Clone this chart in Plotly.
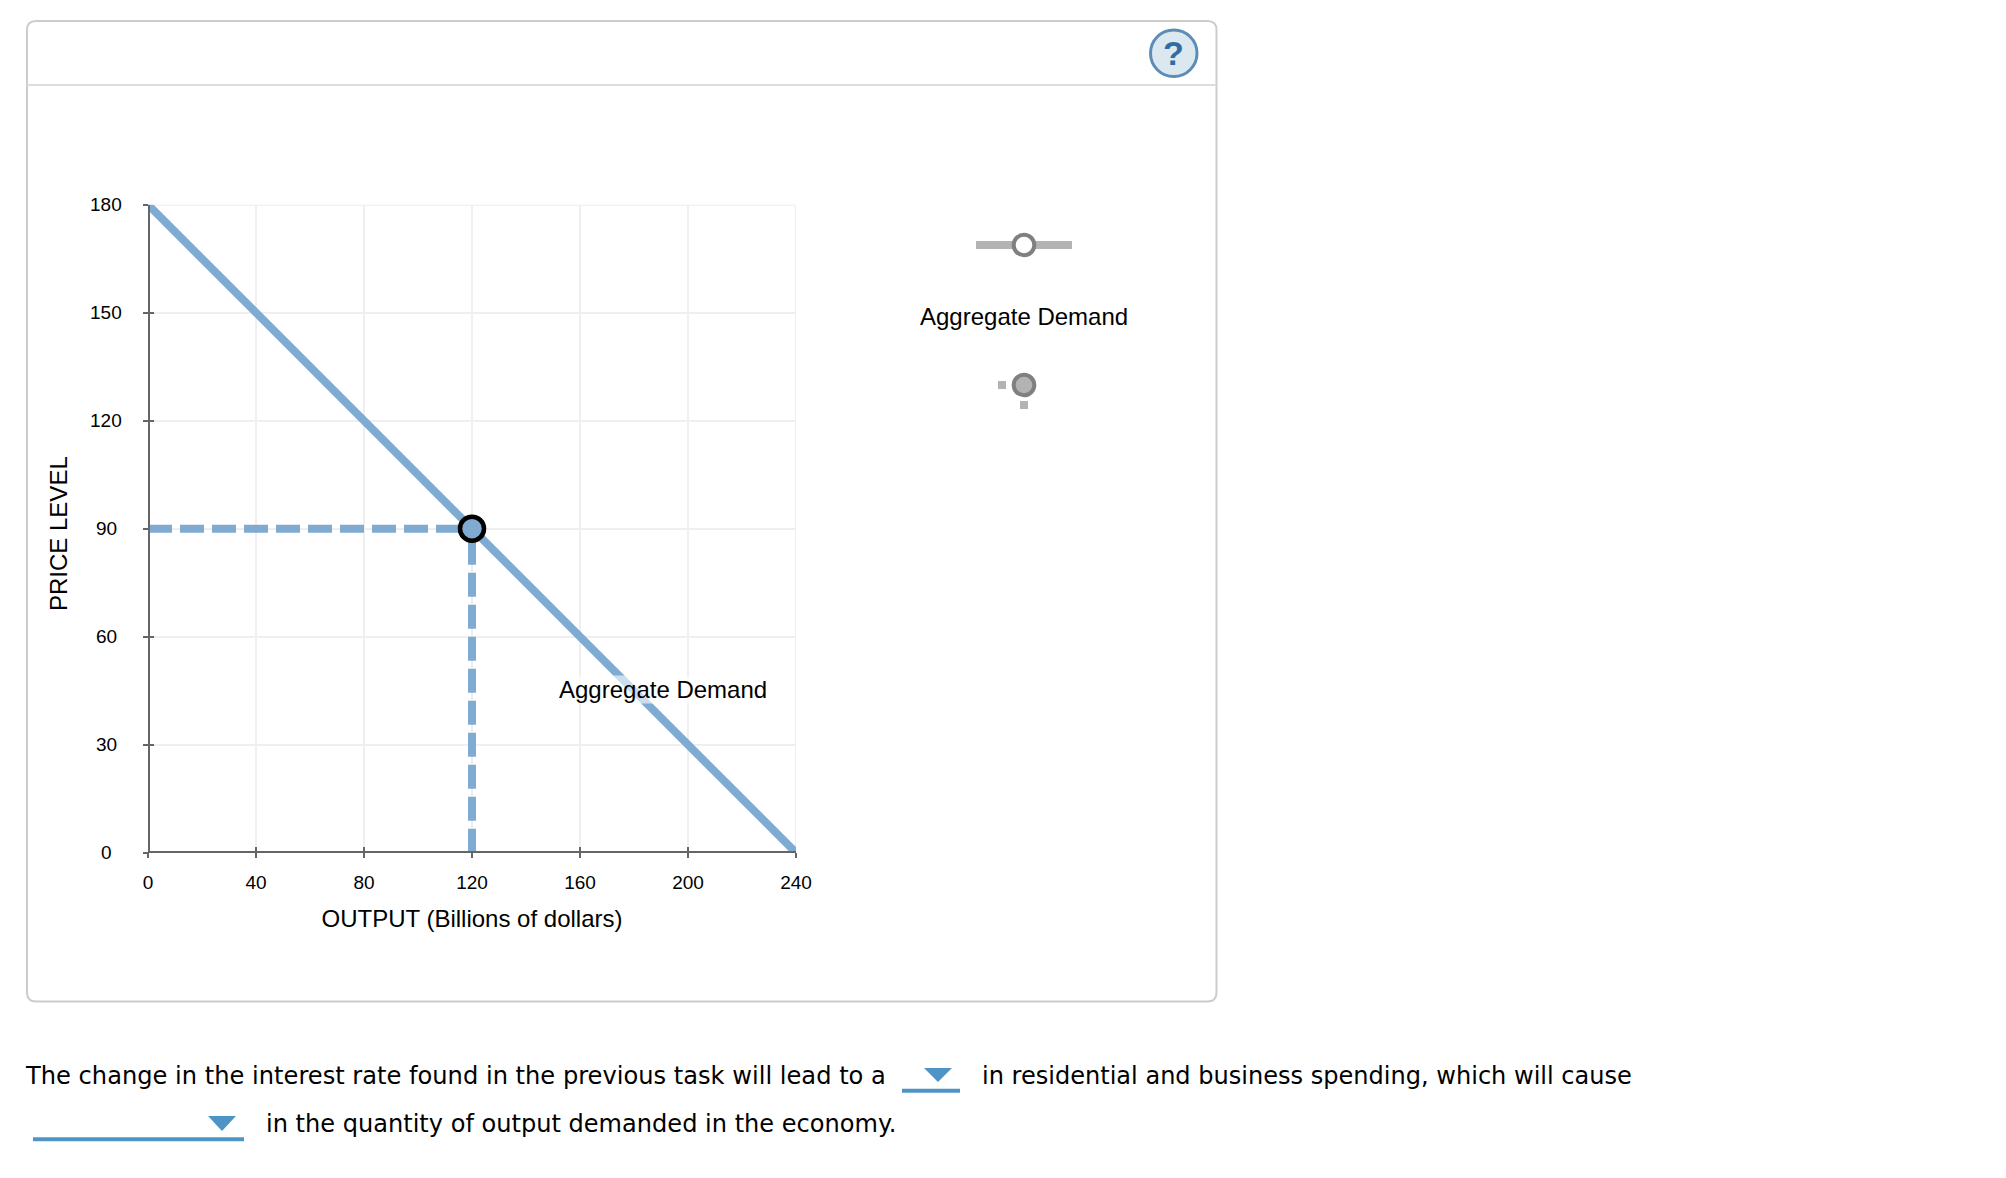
import plotly.graph_objects as go

W, H = 2006, 1178

# ---- data ----
AD_OUTPUT = [0, 240]
AD_PRICE = [180, 0]
EQ_OUTPUT = [120]
EQ_PRICE = [90]
GUIDE_H_X = [0, 120]
GUIDE_H_Y = [90, 90]
GUIDE_V_X = [120, 120]
GUIDE_V_Y = [0, 90]
X_TICKS = [0, 40, 80, 120, 160, 200, 240]
Y_TICKS = [0, 30, 60, 90, 120, 150, 180]
X_TITLE = "OUTPUT (Billions of dollars)"
Y_TITLE = "PRICE LEVEL"
LABEL = "Aggregate Demand"
LABEL_X = 190.7
LABEL_Y = 45.2
Q_1A = "The change in the interest rate found in the previous task will lead to a"
Q_1B = "in residential and business spending, which will cause"
Q_2 = "in the quantity of output demanded in the economy."

BLUE = "#7FABD3"
AXIS = "#666666"
GRID = "#EFEFEF"
GREY = "#B3B3B3"
DARKGREY = "#808080"
DROP = "#4F94C6"
SANS = "Liberation Sans, Arial, sans-serif"
VERD = "DejaVu Sans, Verdana, sans-serif"


def px(v):
    return v / W


def py(v):
    return 1 - v / H


PLOT_L, PLOT_R, PLOT_T, PLOT_B = 148, 796, 204.7, 852.7


def rect(x0, y0, x1, y1, fill=None, line=None, lw=0, kind="rect"):
    return dict(type=kind, xref="paper", yref="paper",
                x0=px(x0), x1=px(x1), y0=py(y0), y1=py(y1),
                fillcolor=fill if fill else "rgba(0,0,0,0)",
                line=dict(color=line if line else "rgba(0,0,0,0)", width=lw),
                layer="below")


def path(points, fill):
    d = "M " + " L ".join(f"{px(a):.5f},{py(b):.5f}" for a, b in points) + " Z"
    return dict(type="path", xref="paper", yref="paper", path=d, fillcolor=fill,
                line=dict(width=0), layer="below")


def rounded_box(l, t, r, b, c=9):
    pts = [
        f"M {px(l + c):.5f},{py(t):.5f}",
        f"L {px(r - c):.5f},{py(t):.5f}",
        f"Q {px(r):.5f},{py(t):.5f} {px(r):.5f},{py(t + c):.5f}",
        f"L {px(r):.5f},{py(b - c):.5f}",
        f"Q {px(r):.5f},{py(b):.5f} {px(r - c):.5f},{py(b):.5f}",
        f"L {px(l + c):.5f},{py(b):.5f}",
        f"Q {px(l):.5f},{py(b):.5f} {px(l):.5f},{py(b - c):.5f}",
        f"L {px(l):.5f},{py(t + c):.5f}",
        f"Q {px(l):.5f},{py(t):.5f} {px(l + c):.5f},{py(t):.5f} Z",
    ]
    return dict(type="path", xref="paper", yref="paper", path=" ".join(pts),
                line=dict(color="#CCCCCC", width=2), layer="below")


shapes = [
    rounded_box(27, 21, 1216.5, 1001.5),
    dict(type="line", xref="paper", yref="paper", x0=px(27), x1=px(1216.5), y0=py(85), y1=py(85),
         line=dict(color="#DDDDDD", width=2), layer="below"),
    # gridlines at the far edges of the plot, which the axes leave out
    dict(type="line", xref="x", yref="y", x0=X_TICKS[0], x1=X_TICKS[-1], y0=Y_TICKS[-1], y1=Y_TICKS[-1],
         line=dict(color=GRID, width=2), layer="below"),
    dict(type="line", xref="x", yref="y", x0=X_TICKS[-1], x1=X_TICKS[-1], y0=Y_TICKS[0], y1=Y_TICKS[-1],
         line=dict(color=GRID, width=2), layer="below"),
    # help icon
    rect(1150.5, 30, 1197, 76.5, fill="#DCE8F0", line="#5C8DB8", lw=3, kind="circle"),
    # legend icons
    rect(976, 241, 1072, 249, fill=GREY),
    rect(1013.7, 234.7, 1034.3, 255.3, fill="#FFFFFF", line=DARKGREY, lw=4, kind="circle"),
    rect(998, 381, 1006, 389, fill=GREY),
    rect(1020, 401, 1028, 409, fill=GREY),
    rect(1013.7, 374.7, 1034.3, 395.3, fill=GREY, line=DARKGREY, lw=4, kind="circle"),
    # dropdowns
    rect(902, 1088.7, 960, 1092.7, fill=DROP),
    path([(924, 1068), (952, 1068), (938, 1082)], DROP),
    rect(33, 1137.2, 244, 1141.2, fill=DROP),
    path([(208, 1116), (236, 1116), (222, 1131)], DROP),
]


def note(x, y, text, size=24, font=SANS, anchor="left", color="#000000", **kw):
    return dict(xref="paper", yref="paper", x=px(x), y=py(y), text=text, showarrow=False,
                xanchor=anchor, yanchor="middle", font=dict(family=font, size=size, color=color),
                **kw)


annotations = [
    note(1173.7, 53, "<b>?</b>", size=34, font=SANS, anchor="center", color="#2F6EA5"),
    note(1024, 316, LABEL, anchor="center"),
    note(22.5, 1076, Q_1A, size=24.15, font=VERD),
    note(979.5, 1076, Q_1B, size=24.05, font=VERD),
    note(263.5, 1124, Q_2, size=24.07, font=VERD),
    note(59, 534, Y_TITLE, anchor="center", textangle=-90),
    dict(xref="x", yref="y", x=LABEL_X, y=LABEL_Y, text=LABEL, showarrow=False, xanchor="center",
         yanchor="middle", font=dict(family=SANS, size=24, color="#000000"),
         bgcolor="rgba(255,255,255,0.6)", borderpad=0),
]
for t in Y_TICKS:
    annotations.append(dict(xref="paper", yref="y", x=px(106), y=t, text=str(t), showarrow=False,
                            xanchor="center", yanchor="middle",
                            font=dict(family=SANS, size=19, color="#000000")))

fig = go.Figure()
fig.add_trace(go.Scatter(x=GUIDE_H_X, y=GUIDE_H_Y, mode="lines", xaxis="x2", yaxis="y2",
                         line=dict(color=BLUE, width=8, dash="24px,8px"), cliponaxis=False,
                         hoverinfo="skip", showlegend=False))
fig.add_trace(go.Scatter(x=GUIDE_V_X, y=GUIDE_V_Y, mode="lines", xaxis="x2", yaxis="y2",
                         line=dict(color=BLUE, width=8, dash="24px,8px"), cliponaxis=False,
                         hoverinfo="skip", showlegend=False))
fig.add_trace(go.Scatter(x=AD_OUTPUT, y=AD_PRICE, mode="lines", xaxis="x2", yaxis="y2",
                         line=dict(color=BLUE, width=8), cliponaxis=False,
                         name=LABEL, showlegend=False))
fig.add_trace(go.Scatter(x=EQ_OUTPUT, y=EQ_PRICE, mode="markers", xaxis="x2", yaxis="y2",
                         marker=dict(size=24, color=BLUE, line=dict(color="#000000", width=4.5)),
                         cliponaxis=False, showlegend=False))

dom_x = [px(PLOT_L), px(PLOT_R)]
dom_y = [py(PLOT_B), py(PLOT_T)]

fig.update_layout(
    template="none",
    width=W, height=H, margin=dict(l=0, r=0, t=0, b=0, pad=0), autosize=False,
    paper_bgcolor="#FFFFFF", plot_bgcolor="#FFFFFF", showlegend=False,
    shapes=shapes, annotations=annotations,
    xaxis=dict(domain=dom_x, range=[0, 240], tickvals=X_TICKS, ticks="outside", ticklen=5,
               tickwidth=2, tickcolor=AXIS, showline=True, linecolor=AXIS, linewidth=2,
               showgrid=True, gridcolor=GRID, gridwidth=2, zeroline=False, automargin=False,
               anchor="free", position=py(PLOT_B - 1),
               tickfont=dict(family=SANS, size=19, color="#000000"),
               ticklabelstandoff=8,
               title=dict(text=X_TITLE, font=dict(family=SANS, size=24, color="#000000"), standoff=18)),
    yaxis=dict(domain=dom_y, range=[0, 180], tickvals=Y_TICKS, ticks="outside", ticklen=5,
               tickwidth=2, tickcolor=AXIS, showline=True, linecolor=AXIS, linewidth=2,
               showgrid=True, gridcolor=GRID, gridwidth=2, zeroline=False, showticklabels=False,
               anchor="free", position=px(PLOT_L + 1),
               automargin=False),
    xaxis2=dict(domain=dom_x, range=[0, 240], overlaying="x", anchor="y2", tickvals=X_TICKS,
                ticks="inside", ticklen=6, tickwidth=2, tickcolor=AXIS, showticklabels=False,
                showgrid=False, zeroline=False, showline=False, layer="below traces", automargin=False),
    yaxis2=dict(domain=dom_y, range=[0, 180], overlaying="y", anchor="x2", tickvals=Y_TICKS,
                ticks="inside", ticklen=6, tickwidth=2, tickcolor=AXIS, showticklabels=False,
                showgrid=False, zeroline=False, showline=False, layer="below traces", automargin=False),
)

fig.write_html("out.html", config=dict(displayModeBar=False),
               post_script="document.body.style.margin='0';")
